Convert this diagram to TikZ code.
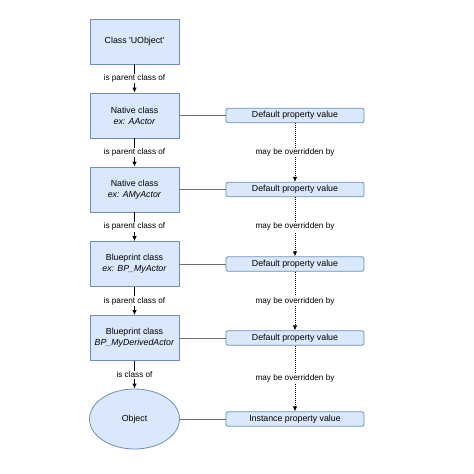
\documentclass[tikz,border=0pt]{standalone}
\usepackage{fontspec}
\setmainfont{Liberation Sans}[Ligatures=TeXOff]
\usetikzlibrary{arrows.meta,shapes.geometric}
\definecolor{boxfill}{HTML}{DAE8FC}
\definecolor{boxline}{HTML}{6C8EBF}
\definecolor{linkgray}{HTML}{6E6E6E}
\begin{document}
\begin{tikzpicture}[x=1pt,y=-1pt,
  cls/.style={draw=boxline,fill=boxfill,line width=0.8pt,minimum width=89pt,minimum height=45pt,inner sep=0pt,align=center,font=\fontsize{8.8}{11}\selectfont},
  obj/.style={ellipse,draw=boxline,fill=boxfill,line width=0.8pt,minimum width=90pt,minimum height=60pt,inner sep=0pt,font=\fontsize{8.8}{11}\selectfont},
  prop/.style={draw=boxline,fill=boxfill,line width=0.8pt,rounded corners=2pt,minimum width=138pt,minimum height=14.5pt,inner sep=0pt,font=\fontsize{8.8}{11}\selectfont},
  lbl/.style={fill=white,inner sep=1pt,font=\fontsize{8.2}{10}\selectfont},
  inh/.style={-{Latex[length=5pt,width=4.5pt]},line width=0.8pt},
  ovr/.style={-{Latex[length=5pt,width=4.5pt]},line width=0.8pt,dash pattern=on 1pt off 1pt},
  tie/.style={draw=linkgray,line width=1pt}]
\useasboundingbox (0,0) rectangle (474,474);
\node[cls] (c0) at (134.5,41.5) {Class 'UObject'};
\node[cls] (c1) at (134.5,115.5) {Native class\\\textit{ex: AActor}};
\node[cls] (c2) at (134.5,189.5) {Native class\\\textit{ex: AMyActor}};
\node[cls] (c3) at (134.5,264) {Blueprint class\\\textit{ex: BP\_MyActor}};
\node[cls] (c4) at (134.5,338) {Blueprint class\\\textit{BP\_MyDerivedActor}};
\node[obj] (o) at (134.5,419) {Object};
\node[prop] (p1) at (295,115.5) {Default property value};
\node[prop] (p2) at (295,189.5) {Default property value};
\node[prop] (p3) at (295,264) {Default property value};
\node[prop] (p4) at (295,338) {Default property value};
\node[prop] (p5) at (295,419) {Instance property value};
\draw[inh] (c0) -- node[lbl]{is parent class of} (c1);
\draw[inh] (c1) -- node[lbl]{is parent class of} (c2);
\draw[inh] (c2) -- node[lbl]{is parent class of} (c3);
\draw[inh] (c3) -- node[lbl]{is parent class of} (c4);
\draw[inh] (c4) -- node[lbl]{is class of} (o);
\draw[tie] (c1) -- (p1);
\draw[tie] (c2) -- (p2);
\draw[tie] (c3) -- (p3);
\draw[tie] (c4) -- (p4);
\draw[tie] (o) -- (p5);
\draw[ovr] (p1) -- node[lbl]{may be overridden by} (p2);
\draw[ovr] (p2) -- node[lbl]{may be overridden by} (p3);
\draw[ovr] (p3) -- node[lbl]{may be overridden by} (p4);
\draw[ovr] (p4) -- node[lbl]{may be overridden by} (p5);
\end{tikzpicture}
\end{document}
